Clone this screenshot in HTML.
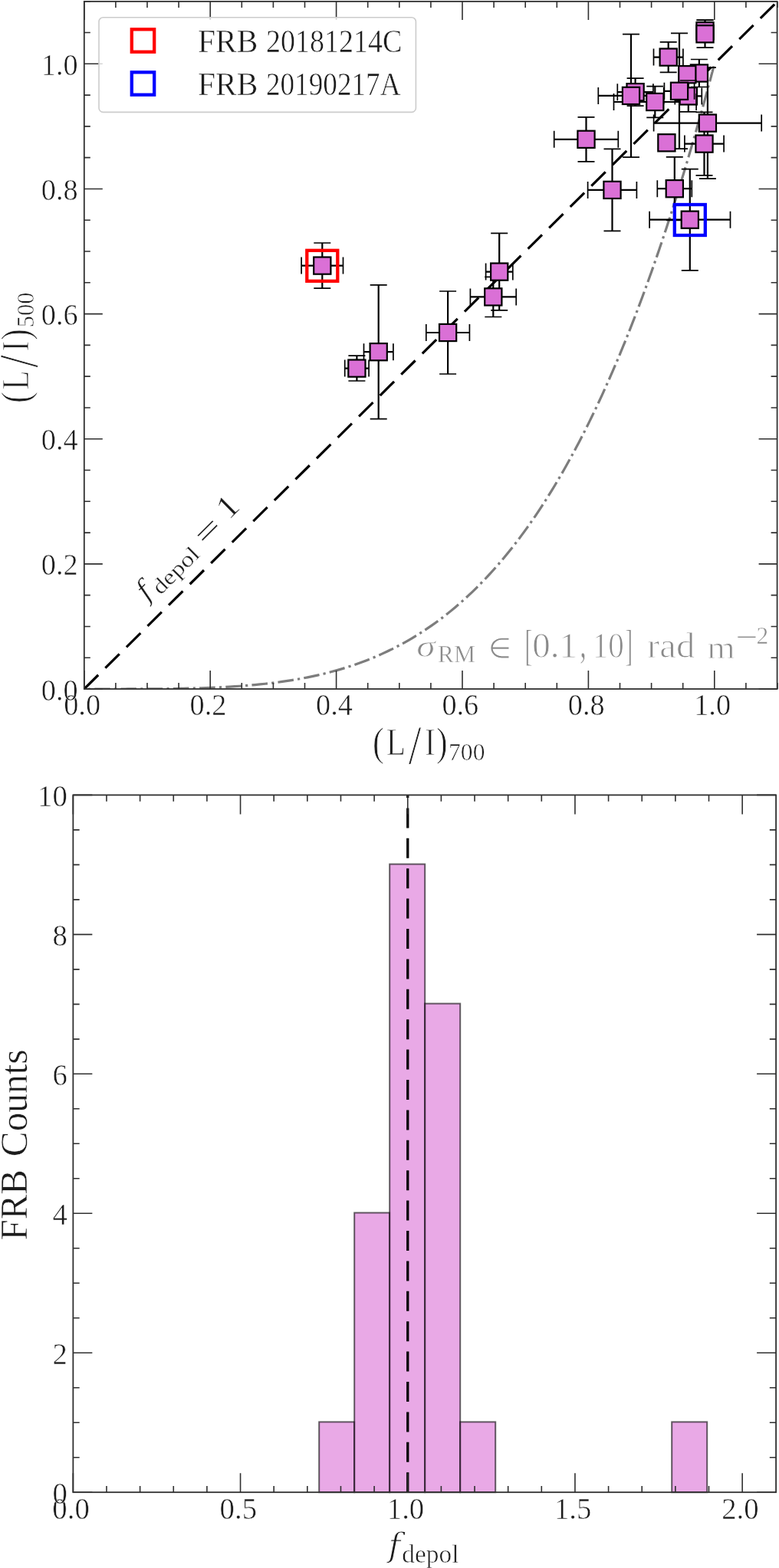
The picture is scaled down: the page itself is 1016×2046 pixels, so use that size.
<!DOCTYPE html>
<html><head><meta charset="utf-8"><title>FRB depolarization</title>
<style>html,body{margin:0;padding:0;background:#fff}svg{display:block}</style></head>
<body>
<svg width="1016" height="2046" viewBox="0 0 1016 2046" font-family='"Liberation Serif", serif' font-size="100">
<rect width="1016" height="2046" fill="#fff"/>
<clipPath id="c1"><rect x="109.8" y="1.9" width="903.8" height="897.1"/></clipPath>
<g clip-path="url(#c1)">
<polyline points="931.25,85.41 931.23,85.45 931.22,85.51 931.21,85.56 931.19,85.61 931.18,85.66 931.16,85.72 931.15,85.77 931.14,85.83 931.12,85.89 931.1,85.95 931.09,86.01 931.07,86.08 931.05,86.14 931.04,86.21 931.02,86.28 931,86.34 930.98,86.42 930.96,86.49 930.94,86.56 930.92,86.64 930.9,86.72 930.88,86.8 930.86,86.88 930.84,86.96 930.82,87.05 930.79,87.13 930.77,87.22 930.75,87.31 930.72,87.41 930.7,87.5 930.67,87.6 930.64,87.7 930.62,87.8 930.59,87.91 930.56,88.02 930.53,88.13 930.5,88.24 930.47,88.35 930.44,88.47 930.41,88.59 930.38,88.71 930.34,88.84 930.31,88.97 930.27,89.1 930.24,89.24 930.2,89.37 930.16,89.52 930.13,89.66 930.09,89.81 930.05,89.96 930.01,90.11 929.97,90.27 929.92,90.43 929.88,90.6 929.83,90.77 929.79,90.94 929.74,91.12 929.69,91.3 929.64,91.49 929.59,91.68 929.54,91.87 929.49,92.07 929.44,92.28 929.38,92.49 929.32,92.7 929.27,92.92 929.21,93.14 929.15,93.37 929.08,93.6 929.02,93.84 928.96,94.09 928.89,94.34 928.82,94.59 928.75,94.85 928.68,95.12 928.61,95.4 928.54,95.68 928.46,95.96 928.38,96.26 928.3,96.56 928.22,96.86 928.14,97.18 928.05,97.5 927.96,97.83 927.87,98.16 927.78,98.51 927.69,98.86 927.59,99.22 927.5,99.59 927.4,99.96 927.29,100.35 927.19,100.74 927.08,101.14 926.97,101.56 926.86,101.98 926.74,102.41 926.63,102.85 926.51,103.3 926.38,103.76 926.26,104.23 926.13,104.72 925.99,105.21 925.86,105.71 925.72,106.23 925.58,106.76 925.44,107.3 925.29,107.85 925.14,108.41 924.98,108.99 924.82,109.58 924.66,110.18 924.49,110.8 924.32,111.43 924.15,112.08 923.97,112.74 923.79,113.41 923.6,114.1 923.41,114.81 923.22,115.53 923.02,116.26 922.82,117.02 922.61,117.79 922.39,118.58 922.18,119.38 921.95,120.2 921.72,121.05 921.49,121.91 921.25,122.79 921.01,123.68 920.76,124.6 920.5,125.54 920.24,126.5 919.97,127.48 919.7,128.49 919.42,129.51 919.13,130.56 918.83,131.63 918.53,132.72 918.23,133.84 917.91,134.98 917.59,136.15 917.26,137.34 916.93,138.56 916.58,139.8 916.23,141.08 915.87,142.37 915.5,143.7 915.13,145.06 914.74,146.44 914.35,147.86 913.94,149.3 913.53,150.78 913.11,152.28 912.68,153.82 912.24,155.4 911.78,157 911.32,158.64 910.85,160.31 910.37,162.02 909.87,163.77 909.37,165.55 908.85,167.37 908.33,169.22 907.79,171.12 907.23,173.05 906.67,175.02 906.09,177.04 905.5,179.09 904.9,181.19 904.28,183.33 903.65,185.51 903,187.74 902.34,190.01 901.67,192.33 900.97,194.69 900.27,197.1 899.55,199.56 898.81,202.07 898.06,204.63 897.28,207.23 896.5,209.89 895.69,212.6 894.87,215.36 894.02,218.17 893.16,221.04 892.28,223.96 891.38,226.94 890.46,229.97 889.52,233.06 888.56,236.21 887.58,239.41 886.58,242.68 885.55,246 884.5,249.38 883.43,252.83 882.34,256.33 881.22,259.9 880.07,263.53 878.9,267.23 877.71,270.99 876.49,274.81 875.25,278.7 873.97,282.65 872.67,286.67 871.34,290.76 869.99,294.91 868.6,299.13 867.18,303.42 865.74,307.78 864.26,312.21 862.75,316.71 861.21,321.27 859.63,325.91 858.03,330.61 856.39,335.39 854.71,340.23 853,345.14 851.25,350.13 849.47,355.18 847.65,360.31 845.79,365.5 843.89,370.77 841.96,376.1 839.98,381.5 837.96,386.97 835.9,392.51 833.8,398.11 831.66,403.78 829.47,409.52 827.24,415.33 824.97,421.19 822.65,427.12 820.28,433.12 817.86,439.17 815.4,445.28 812.89,451.46 810.33,457.69 807.72,463.97 805.06,470.31 802.34,476.7 799.58,483.14 796.76,489.64 793.88,496.17 790.96,502.76 787.97,509.38 784.94,516.05 781.84,522.75 778.69,529.49 775.47,536.26 772.2,543.06 768.87,549.88 765.48,556.73 762.03,563.61 758.51,570.49 754.94,577.4 751.3,584.31 747.59,591.23 743.83,598.16 739.99,605.09 736.1,612.01 732.13,618.93 728.1,625.83 724,632.72 719.84,639.59 715.6,646.44 711.3,653.26 706.93,660.05 702.49,666.8 697.98,673.52 693.4,680.19 688.75,686.81 684.03,693.38 679.24,699.89 674.38,706.34 669.45,712.72 664.45,719.04 659.38,725.28 654.24,731.44 649.02,737.52 643.74,743.51 638.39,749.42 632.96,755.23 627.47,760.94 621.91,766.55 616.29,772.05 610.59,777.45 604.83,782.73 599,787.9 593.11,792.96 587.15,797.89 581.13,802.7 575.05,807.39 568.91,811.95 562.7,816.38 556.44,820.68 550.13,824.85 543.76,828.89 537.33,832.8 530.85,836.57 524.33,840.2 517.75,843.71 511.13,847.07 504.47,850.31 497.76,853.41 491.02,856.38 484.24,859.22 477.43,861.93 470.59,864.51 463.71,866.97 456.82,869.3 449.9,871.51 442.96,873.6 436.01,875.58 429.05,877.44 422.07,879.2 415.09,880.84 408.11,882.39 401.13,883.83 394.16,885.18 387.2,886.43 380.25,887.6 373.32,888.68 366.41,889.68 359.53,890.61 352.68,891.46 345.86,892.24 339.08,892.96 332.35,893.61 325.66,894.21 319.02,894.75 312.44,895.24 305.93,895.68 299.47,896.08 293.09,896.44 286.77,896.76 280.54,897.05 274.39,897.31 268.32,897.54 262.34,897.74 256.46,897.91 250.67,898.07 244.99,898.21 239.41,898.32 233.94,898.43 228.58,898.52 223.33,898.59 218.2,898.66 213.19,898.72 208.31,898.76 203.54,898.81 198.91,898.84 194.4,898.87 190.03,898.89 185.79,898.91 181.68,898.93 177.7,898.94 173.86,898.95 170.15,898.96 166.58,898.97 163.15,898.98 159.85,898.98 156.68,898.99 153.65,898.99 150.75,898.99 147.98,898.99 145.34,899 142.82,899 140.43,899 138.17,899 136.02,899 134,899 132.09,899 130.28,899 128.59,899 127.01,899 125.52,899 124.13,899 122.84,899 121.64,899 120.52,899 119.49,899 118.53,899 117.65,899 116.85,899 116.1,899 115.43,899 114.81,899 114.25,899 113.74,899 113.27,899 112.86,899 112.48,899 112.15,899 111.85,899 111.58,899 111.34,899 111.13,899 110.95,899 110.78,899" fill="none" stroke="#7d7d7d" stroke-width="3.2" stroke-dasharray="20.67 5.17 3.23 5.17" stroke-dashoffset="-1"/>
<line x1="109.8" y1="899" x2="1014" y2="1.73" stroke="#000" stroke-width="3.2" stroke-dasharray="25.9 12.93"/>
</g>
<path d="M919.5 26.1V54.5M919.5 26.4V62.2M852.5 74.6H890.9M871.7 54.9V94.3M852.6 160.6H993.2M922.9 88.1V233.1M892.9 187.6H944.1M918.5 146.4V228.8M911.9 77.5V113.5M880.3 125.4H915.3M897.8 105V145.8M866.4 118.8H905.6M886 43.4V194.2M805.3 120.2H851.9M828.6 102.2V138.2M780.3 124.9H865.7M823 44.7V205.1M800.5 133H908.1M854.3 112.7V153.3M722.7 181.8H806.3M764.5 152.8V210.8M857.3 246.2H902.3M879.8 204.9V287.5M766.6 247.9H830.4M798.5 194.4V301.4M847.1 286.7H952.5M899.8 220.6V352.8M393.1 346.6H447.5M420.3 317V376.2M449.7 480.6H481.1M465.4 464.2V497M474.5 459.2H512.9M493.7 371.8V546.6M555.8 434H612.4M584.1 380V488M613.4 387.4H673.2M643.3 361.3V413.5M633.6 354.6H668.8M651.2 304.3V404.9" stroke="#000" stroke-width="2.2" fill="none"/>
<rect x="908.4" y="29.2" width="22.2" height="22.2" fill="#da70d6" stroke="#000" stroke-width="2.2"/>
<path d="M908.5 26.1h22M908.5 54.5h22" stroke="#000" stroke-width="1.7" fill="none"/>
<rect x="908.4" y="33.2" width="22.2" height="22.2" fill="#da70d6" stroke="#000" stroke-width="2.2"/>
<path d="M908.5 26.4h22M908.5 62.2h22" stroke="#000" stroke-width="1.7" fill="none"/>
<rect x="860.6" y="63.5" width="22.2" height="22.2" fill="#da70d6" stroke="#000" stroke-width="2.2"/>
<path d="M852.5 63.6v22M890.9 63.6v22M860.7 54.9h22M860.7 94.3h22" stroke="#000" stroke-width="1.7" fill="none"/>
<rect x="911.8" y="149.5" width="22.2" height="22.2" fill="#da70d6" stroke="#000" stroke-width="2.2"/>
<path d="M852.6 149.6v22M993.2 149.6v22M911.9 88.1h22M911.9 233.1h22" stroke="#000" stroke-width="1.7" fill="none"/>
<rect x="907.4" y="176.5" width="22.2" height="22.2" fill="#da70d6" stroke="#000" stroke-width="2.2"/>
<path d="M892.9 176.6v22M944.1 176.6v22M907.5 146.4h22M907.5 228.8h22" stroke="#000" stroke-width="1.7" fill="none"/>
<rect x="900.8" y="84.4" width="22.2" height="22.2" fill="#da70d6" stroke="#000" stroke-width="2.2"/>
<path d="M900.9 77.5h22M900.9 113.5h22" stroke="#000" stroke-width="1.7" fill="none"/>
<rect x="885.2" y="86.1" width="22.2" height="22.2" fill="#da70d6" stroke="#000" stroke-width="2.2"/>
<rect x="886.7" y="114.3" width="22.2" height="22.2" fill="#da70d6" stroke="#000" stroke-width="2.2"/>
<path d="M880.3 114.4v22M915.3 114.4v22M886.8 105h22M886.8 145.8h22" stroke="#000" stroke-width="1.7" fill="none"/>
<rect x="874.9" y="107.7" width="22.2" height="22.2" fill="#da70d6" stroke="#000" stroke-width="2.2"/>
<path d="M866.4 107.8v22M905.6 107.8v22M875 43.4h22M875 194.2h22" stroke="#000" stroke-width="1.7" fill="none"/>
<rect x="817.5" y="109.1" width="22.2" height="22.2" fill="#da70d6" stroke="#000" stroke-width="2.2"/>
<path d="M805.3 109.2v22M851.9 109.2v22M817.6 102.2h22M817.6 138.2h22" stroke="#000" stroke-width="1.7" fill="none"/>
<rect x="811.9" y="113.8" width="22.2" height="22.2" fill="#da70d6" stroke="#000" stroke-width="2.2"/>
<path d="M780.3 113.9v22M865.7 113.9v22M812 44.7h22M812 205.1h22" stroke="#000" stroke-width="1.7" fill="none"/>
<rect x="843.2" y="121.9" width="22.2" height="22.2" fill="#da70d6" stroke="#000" stroke-width="2.2"/>
<path d="M800.5 122v22M908.1 122v22M843.3 112.7h22M843.3 153.3h22" stroke="#000" stroke-width="1.7" fill="none"/>
<rect x="858.3" y="175.2" width="22.2" height="22.2" fill="#da70d6" stroke="#000" stroke-width="2.2"/>
<rect x="753.4" y="170.7" width="22.2" height="22.2" fill="#da70d6" stroke="#000" stroke-width="2.2"/>
<path d="M722.7 170.8v22M806.3 170.8v22M753.5 152.8h22M753.5 210.8h22" stroke="#000" stroke-width="1.7" fill="none"/>
<rect x="868.7" y="235.1" width="22.2" height="22.2" fill="#da70d6" stroke="#000" stroke-width="2.2"/>
<path d="M857.3 235.2v22M902.3 235.2v22M868.8 204.9h22M868.8 287.5h22" stroke="#000" stroke-width="1.7" fill="none"/>
<rect x="787.4" y="236.8" width="22.2" height="22.2" fill="#da70d6" stroke="#000" stroke-width="2.2"/>
<path d="M766.6 236.9v22M830.4 236.9v22M787.5 194.4h22M787.5 301.4h22" stroke="#000" stroke-width="1.7" fill="none"/>
<rect x="888.7" y="275.6" width="22.2" height="22.2" fill="#da70d6" stroke="#000" stroke-width="2.2"/>
<path d="M847.1 275.7v22M952.5 275.7v22M888.8 220.6h22M888.8 352.8h22" stroke="#000" stroke-width="1.7" fill="none"/>
<rect x="409.2" y="335.5" width="22.2" height="22.2" fill="#da70d6" stroke="#000" stroke-width="2.2"/>
<path d="M393.1 335.6v22M447.5 335.6v22M409.3 317h22M409.3 376.2h22" stroke="#000" stroke-width="1.7" fill="none"/>
<rect x="454.3" y="469.5" width="22.2" height="22.2" fill="#da70d6" stroke="#000" stroke-width="2.2"/>
<path d="M449.7 469.6v22M481.1 469.6v22M454.4 464.2h22M454.4 497h22" stroke="#000" stroke-width="1.7" fill="none"/>
<rect x="482.6" y="448.1" width="22.2" height="22.2" fill="#da70d6" stroke="#000" stroke-width="2.2"/>
<path d="M474.5 448.2v22M512.9 448.2v22M482.7 371.8h22M482.7 546.6h22" stroke="#000" stroke-width="1.7" fill="none"/>
<rect x="573" y="422.9" width="22.2" height="22.2" fill="#da70d6" stroke="#000" stroke-width="2.2"/>
<path d="M555.8 423v22M612.4 423v22M573.1 380h22M573.1 488h22" stroke="#000" stroke-width="1.7" fill="none"/>
<rect x="632.2" y="376.3" width="22.2" height="22.2" fill="#da70d6" stroke="#000" stroke-width="2.2"/>
<path d="M613.4 376.4v22M673.2 376.4v22M632.3 361.3h22M632.3 413.5h22" stroke="#000" stroke-width="1.7" fill="none"/>
<rect x="640.1" y="343.5" width="22.2" height="22.2" fill="#da70d6" stroke="#000" stroke-width="2.2"/>
<path d="M633.6 343.6v22M668.8 343.6v22M640.2 304.3h22M640.2 404.9h22" stroke="#000" stroke-width="1.7" fill="none"/>
<rect x="400.3" y="326.8" width="40" height="40" fill="none" stroke="#f00" stroke-width="4.3"/>
<rect x="879.8" y="267" width="40" height="40" fill="none" stroke="#00f" stroke-width="4.3"/>
<path d="M109.8 899v-24M109.8 1.9v24M274.2 899v-24M274.2 1.9v24M438.6 899v-24M438.6 1.9v24M603 899v-24M603 1.9v24M767.4 899v-24M767.4 1.9v24M931.8 899v-24M931.8 1.9v24M150.9 899v-8M150.9 1.9v8M192 899v-8M192 1.9v8M233.1 899v-8M233.1 1.9v8M315.3 899v-8M315.3 1.9v8M356.4 899v-8M356.4 1.9v8M397.5 899v-8M397.5 1.9v8M479.7 899v-8M479.7 1.9v8M520.8 899v-8M520.8 1.9v8M561.9 899v-8M561.9 1.9v8M644.1 899v-8M644.1 1.9v8M685.2 899v-8M685.2 1.9v8M726.3 899v-8M726.3 1.9v8M808.5 899v-8M808.5 1.9v8M849.6 899v-8M849.6 1.9v8M890.7 899v-8M890.7 1.9v8M972.9 899v-8M972.9 1.9v8M1014 899v-8M1014 1.9v8M109.8 899h24M1013.6 899h-24M109.8 735.86h24M1013.6 735.86h-24M109.8 572.72h24M1013.6 572.72h-24M109.8 409.58h24M1013.6 409.58h-24M109.8 246.44h24M1013.6 246.44h-24M109.8 83.3h24M1013.6 83.3h-24M109.8 858.22h8M1013.6 858.22h-8M109.8 817.43h8M1013.6 817.43h-8M109.8 776.64h8M1013.6 776.64h-8M109.8 695.08h8M1013.6 695.08h-8M109.8 654.29h8M1013.6 654.29h-8M109.8 613.5h8M1013.6 613.5h-8M109.8 531.93h8M1013.6 531.93h-8M109.8 491.15h8M1013.6 491.15h-8M109.8 450.36h8M1013.6 450.36h-8M109.8 368.79h8M1013.6 368.79h-8M109.8 328.01h8M1013.6 328.01h-8M109.8 287.22h8M1013.6 287.22h-8M109.8 205.65h8M1013.6 205.65h-8M109.8 164.87h8M1013.6 164.87h-8M109.8 124.08h8M1013.6 124.08h-8M109.8 42.51h8M1013.6 42.51h-8M109.8 1.73h8M1013.6 1.73h-8" stroke="#303030" stroke-width="1.6" fill="none"/>
<rect x="109.8" y="1.9" width="903.8" height="897.1" fill="none" stroke="#303030" stroke-width="1.8"/>
<text transform="translate(83.2,933.2) scale(0.3830,0.3940)" fill="#1c1c1c" stroke="#fff" stroke-width="1.42">0.0</text>
<text transform="translate(53.83,913.6) scale(0.3830,0.3940)" fill="#1c1c1c" stroke="#fff" stroke-width="1.42">0.0</text>
<text transform="translate(247.6,933.2) scale(0.3830,0.3940)" fill="#1c1c1c" stroke="#fff" stroke-width="1.42">0.2</text>
<text transform="translate(53.83,750.46) scale(0.3830,0.3940)" fill="#1c1c1c" stroke="#fff" stroke-width="1.42">0.2</text>
<text transform="translate(412,933.2) scale(0.3830,0.3940)" fill="#1c1c1c" stroke="#fff" stroke-width="1.42">0.4</text>
<text transform="translate(53.83,587.32) scale(0.3830,0.3940)" fill="#1c1c1c" stroke="#fff" stroke-width="1.42">0.4</text>
<text transform="translate(576.4,933.2) scale(0.3830,0.3940)" fill="#1c1c1c" stroke="#fff" stroke-width="1.42">0.6</text>
<text transform="translate(53.83,424.18) scale(0.3830,0.3940)" fill="#1c1c1c" stroke="#fff" stroke-width="1.42">0.6</text>
<text transform="translate(740.8,933.2) scale(0.3830,0.3940)" fill="#1c1c1c" stroke="#fff" stroke-width="1.42">0.8</text>
<text transform="translate(53.83,261.04) scale(0.3830,0.3940)" fill="#1c1c1c" stroke="#fff" stroke-width="1.42">0.8</text>
<text transform="translate(905.2,933.2) scale(0.3830,0.3940)" fill="#1c1c1c" stroke="#fff" stroke-width="1.42">1.0</text>
<text transform="translate(53.83,97.9) scale(0.3830,0.3940)" fill="#1c1c1c" stroke="#fff" stroke-width="1.42">1.0</text>
<rect x="129" y="22.8" width="413.4" height="123.6" rx="5.5" fill="#fff" fill-opacity="0.8" stroke="#ccc" stroke-width="1.6"/>
<rect x="171.8" y="38.3" width="29.4" height="29.4" fill="none" stroke="#f00" stroke-width="4.3"/>
<rect x="171.8" y="94.3" width="29.4" height="29.4" fill="none" stroke="#00f" stroke-width="4.3"/>
<text transform="translate(257.96,68) scale(0.4144,0.4229)" fill="#1c1c1c" stroke="#fff" stroke-width="1.31">FRB</text>
<text transform="translate(346.89,67.88) scale(0.3805,0.4207)" fill="#1c1c1c" stroke="#fff" stroke-width="1.37">20181214C</text>
<text transform="translate(257.96,123.9) scale(0.4144,0.4229)" fill="#1c1c1c" stroke="#fff" stroke-width="1.31">FRB</text>
<text transform="translate(346.93,123.68) scale(0.3719,0.4193)" fill="#1c1c1c" stroke="#fff" stroke-width="1.39">20190217A</text>
<g transform="translate(36.9,524) rotate(-90)">
<text transform="translate(0,0) scale(0.8239,1)" fill="#1c1c1c" stroke="#fff"><tspan x="-2.57" y="0.6" font-size="53.33" stroke-width="0.88">(</tspan><tspan x="18.87" y="0" font-size="49.69" stroke-width="0.99">L</tspan><tspan x="53.81" y="11.08" font-size="72.18" stroke-width="0.99">/</tspan><tspan x="79.41" y="0" font-size="49.69" stroke-width="0.99">I</tspan><tspan x="97.41" y="0.6" font-size="53.33" stroke-width="0.88">)</tspan></text>
<text transform="translate(96.67,6.68) scale(0.3057,0.3215)" fill="#1c1c1c" stroke="#fff" stroke-width="1.75">500</text>
</g>
<text transform="translate(488.2,984.9) scale(0.8292,1)" fill="#1c1c1c" stroke="#fff"><tspan x="-2.57" y="0.6" font-size="53.33" stroke-width="0.87">(</tspan><tspan x="18.87" y="0" font-size="49.69" stroke-width="0.98">L</tspan><tspan x="53.81" y="11.08" font-size="72.18" stroke-width="0.98">/</tspan><tspan x="79.41" y="0" font-size="49.69" stroke-width="0.98">I</tspan><tspan x="97.41" y="0.6" font-size="53.33" stroke-width="0.87">)</tspan></text>
<text transform="translate(585.05,992.48) scale(0.3161,0.3244)" fill="#1c1c1c" stroke="#fff" stroke-width="1.72">700</text>
<g transform="translate(307,670.5) rotate(-44.78)">
<text transform="translate(-162.34,0.62) scale(0.3600,0.3753)" font-family='"DejaVu Serif", serif' font-style="italic" fill="#1c1c1c" stroke="#fff" stroke-width="1.50">f</text>
<text transform="translate(-144.67,7) scale(0.3349,0.2856)" fill="#1c1c1c" stroke="#fff" stroke-width="1.29">depol</text>
<text transform="translate(-58.01,2.84) scale(0.6022,0.3920)" fill="#1c1c1c" stroke="#fff" stroke-width="0.70">=</text>
<text transform="translate(-12.11,0) scale(0.4571,0.4244)" fill="#1c1c1c" stroke="#fff" stroke-width="0.91">1</text>
</g>
<text transform="translate(543.31,857.49) scale(0.4970,0.4057)" font-style="italic" fill="#8a8a8a" stroke="#fff" stroke-width="1.99">σ</text>
<text transform="translate(570.85,863.6) scale(0.3164,0.3246)" fill="#8a8a8a" stroke="#fff" stroke-width="1.72">RM</text>
<text transform="translate(634.63,859.2) scale(0.4642,0.4256)" font-family='"DejaVu Serif", serif' fill="#8a8a8a" stroke="#fff" stroke-width="2.92">∈</text>
<text transform="translate(684.31,861.28) scale(0.3182,0.5721)" fill="#8a8a8a" stroke="#fff" stroke-width="2.02">[</text>
<text transform="translate(694.22,857.61) scale(0.4704,0.4574)" fill="#8a8a8a" stroke="#fff" stroke-width="1.94">0.1</text>
<text transform="translate(756.25,858.26) scale(0.3379,0.5490)" fill="#8a8a8a" stroke="#fff" stroke-width="1.24">,</text>
<text transform="translate(772.7,857.84) scale(0.4115,0.4607)" fill="#8a8a8a" stroke="#fff" stroke-width="2.06">10</text>
<text transform="translate(815.11,861.28) scale(0.3111,0.5721)" fill="#8a8a8a" stroke="#fff" stroke-width="2.04">]</text>
<text transform="translate(844.12,858.33) scale(0.4876,0.4686)" fill="#8a8a8a" stroke="#fff" stroke-width="2.09">rad</text>
<text transform="translate(922.26,858.8) scale(0.4689,0.4298)" fill="#8a8a8a" stroke="#fff" stroke-width="2.23">m</text>
<text transform="translate(986.38,839.5) scale(0.3150,0.3061)" fill="#8a8a8a" stroke="#fff" stroke-width="1.6"><tspan x="-86.29" y="26.35" font-size="165" stroke-width="3">−</tspan><tspan x="0" y="0">2</tspan></text>
<rect x="416.2" y="1855.42" width="46" height="91.78" fill="#da70d6" fill-opacity="0.6" stroke="#000" stroke-opacity="0.6" stroke-width="2"/>
<rect x="462.2" y="1582.48" width="46" height="364.72" fill="#da70d6" fill-opacity="0.6" stroke="#000" stroke-opacity="0.6" stroke-width="2"/>
<rect x="508.2" y="1127.58" width="46" height="819.62" fill="#da70d6" fill-opacity="0.6" stroke="#000" stroke-opacity="0.6" stroke-width="2"/>
<rect x="554.2" y="1309.54" width="46" height="637.66" fill="#da70d6" fill-opacity="0.6" stroke="#000" stroke-opacity="0.6" stroke-width="2"/>
<rect x="600.2" y="1855.42" width="46" height="91.78" fill="#da70d6" fill-opacity="0.6" stroke="#000" stroke-opacity="0.6" stroke-width="2"/>
<rect x="876.2" y="1855.42" width="46" height="91.78" fill="#da70d6" fill-opacity="0.6" stroke="#000" stroke-opacity="0.6" stroke-width="2"/>
<line x1="531.75" y1="1947.2" x2="531.75" y2="1037.4" stroke="#000" stroke-width="3.3" stroke-dasharray="26 13.4"/>
<path d="M95.35 1947.2v-25M95.35 1037.4v25M313.55 1947.2v-25M313.55 1037.4v25M531.75 1947.2v-25M531.75 1037.4v25M749.95 1947.2v-25M749.95 1037.4v25M968.15 1947.2v-25M968.15 1037.4v25M138.99 1947.2v-8.3M138.99 1037.4v8.3M182.63 1947.2v-8.3M182.63 1037.4v8.3M226.27 1947.2v-8.3M226.27 1037.4v8.3M269.91 1947.2v-8.3M269.91 1037.4v8.3M357.19 1947.2v-8.3M357.19 1037.4v8.3M400.83 1947.2v-8.3M400.83 1037.4v8.3M444.47 1947.2v-8.3M444.47 1037.4v8.3M488.11 1947.2v-8.3M488.11 1037.4v8.3M575.39 1947.2v-8.3M575.39 1037.4v8.3M619.03 1947.2v-8.3M619.03 1037.4v8.3M662.67 1947.2v-8.3M662.67 1037.4v8.3M706.31 1947.2v-8.3M706.31 1037.4v8.3M793.59 1947.2v-8.3M793.59 1037.4v8.3M837.23 1947.2v-8.3M837.23 1037.4v8.3M880.87 1947.2v-8.3M880.87 1037.4v8.3M924.51 1947.2v-8.3M924.51 1037.4v8.3M95.35 1947.2h25M1012.1 1947.2h-25M95.35 1765.24h25M1012.1 1765.24h-25M95.35 1583.28h25M1012.1 1583.28h-25M95.35 1401.32h25M1012.1 1401.32h-25M95.35 1219.36h25M1012.1 1219.36h-25M95.35 1037.4h25M1012.1 1037.4h-25M95.35 1901.71h8.3M1012.1 1901.71h-8.3M95.35 1856.22h8.3M1012.1 1856.22h-8.3M95.35 1810.73h8.3M1012.1 1810.73h-8.3M95.35 1719.75h8.3M1012.1 1719.75h-8.3M95.35 1674.26h8.3M1012.1 1674.26h-8.3M95.35 1628.77h8.3M1012.1 1628.77h-8.3M95.35 1537.79h8.3M1012.1 1537.79h-8.3M95.35 1492.3h8.3M1012.1 1492.3h-8.3M95.35 1446.81h8.3M1012.1 1446.81h-8.3M95.35 1355.83h8.3M1012.1 1355.83h-8.3M95.35 1310.34h8.3M1012.1 1310.34h-8.3M95.35 1264.85h8.3M1012.1 1264.85h-8.3M95.35 1173.87h8.3M1012.1 1173.87h-8.3M95.35 1128.38h8.3M1012.1 1128.38h-8.3M95.35 1082.89h8.3M1012.1 1082.89h-8.3" stroke="#303030" stroke-width="1.6" fill="none"/>
<rect x="95.35" y="1037.4" width="916.75" height="909.8" fill="none" stroke="#303030" stroke-width="1.8"/>
<text transform="translate(68.35,1981.9) scale(0.3880,0.3900)" fill="#1c1c1c" stroke="#fff" stroke-width="1.41">0.0</text>
<text transform="translate(286.55,1981.9) scale(0.3880,0.3900)" fill="#1c1c1c" stroke="#fff" stroke-width="1.41">0.5</text>
<text transform="translate(504.75,1981.9) scale(0.3880,0.3900)" fill="#1c1c1c" stroke="#fff" stroke-width="1.41">1.0</text>
<text transform="translate(722.95,1981.9) scale(0.3880,0.3900)" fill="#1c1c1c" stroke="#fff" stroke-width="1.41">1.5</text>
<text transform="translate(941.15,1981.9) scale(0.3880,0.3900)" fill="#1c1c1c" stroke="#fff" stroke-width="1.41">2.0</text>
<text transform="translate(68.4,1961.8) scale(0.3880,0.3900)" fill="#1c1c1c" stroke="#fff" stroke-width="1.41">0</text>
<text transform="translate(68.4,1779.84) scale(0.3880,0.3900)" fill="#1c1c1c" stroke="#fff" stroke-width="1.41">2</text>
<text transform="translate(68.4,1597.88) scale(0.3880,0.3900)" fill="#1c1c1c" stroke="#fff" stroke-width="1.41">4</text>
<text transform="translate(68.4,1415.92) scale(0.3880,0.3900)" fill="#1c1c1c" stroke="#fff" stroke-width="1.41">6</text>
<text transform="translate(68.4,1233.96) scale(0.3880,0.3900)" fill="#1c1c1c" stroke="#fff" stroke-width="1.41">8</text>
<text transform="translate(49,1052) scale(0.3880,0.3900)" fill="#1c1c1c" stroke="#fff" stroke-width="1.41">10</text>
<g transform="translate(35.3,1617.1) rotate(-90)">
<text transform="translate(-1.47,0) scale(0.4895,0.5038)" fill="#1c1c1c" stroke="#fff" stroke-width="1.11">FRB</text>
<text transform="translate(107.82,-0.01) scale(0.4938,0.5119)" fill="#1c1c1c" stroke="#fff" stroke-width="1.09">Counts</text>
</g>
<text transform="translate(506.39,2031.49) scale(0.4313,0.4340)" font-family='"DejaVu Serif", serif' font-style="italic" fill="#1c1c1c" stroke="#fff" stroke-width="2.31">f</text>
<text transform="translate(524.33,2038.52) scale(0.3339,0.3467)" fill="#1c1c1c" stroke="#fff" stroke-width="1.62">depol</text>
</svg>
</body></html>
